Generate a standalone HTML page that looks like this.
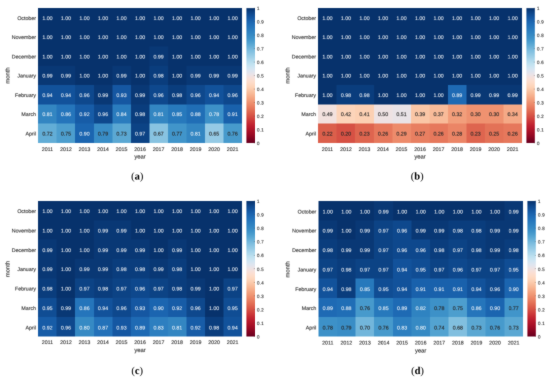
<!DOCTYPE html>
<html><head><meta charset="utf-8"><title>Heatmaps</title>
<style>
html,body{margin:0;padding:0;background:#fff;}
body{width:550px;height:379px;overflow:hidden;position:relative;}
.wrap{position:absolute;left:0;top:0;width:1100px;height:758px;transform:scale(0.5);transform-origin:0 0;will-change:transform;background:#fff;}
svg{display:block;font-family:"Liberation Sans",sans-serif;text-rendering:geometricPrecision;}
.ann text{font-size:5.25px;text-anchor:middle;}
.ann .wh{fill:#fff;stroke:#fff;stroke-width:0.04px;}
.ann .dk{fill:#262626;stroke:#262626;stroke-width:0.13px;}
.ml text{font-size:5.25px;text-anchor:end;fill:#262626;stroke:#262626;stroke-width:0.1px;}
.yl text{font-size:5.25px;text-anchor:middle;fill:#262626;stroke:#262626;stroke-width:0.1px;}
.axl{font-size:5.85px;text-anchor:middle;fill:#262626;stroke:#262626;stroke-width:0.1px;}
.cb text{font-size:4.7px;letter-spacing:0.15px;fill:#262626;stroke:#262626;stroke-width:0.1px;}
.cb line{stroke:#444;stroke-width:0.35px;}
.cap{font-family:"Liberation Serif",serif;font-size:10.5px;text-anchor:middle;fill:#000;}
.cap .b{font-weight:bold;}
</style></head><body>
<div class="wrap">
<svg width="1100" height="758" viewBox="0 0 550 379">
<defs><linearGradient id="rdbu" x1="0" y1="1" x2="0" y2="0">
<stop offset="0.0000" stop-color="#67001f"/>
<stop offset="0.0185" stop-color="#770120"/>
<stop offset="0.0370" stop-color="#860421"/>
<stop offset="0.0556" stop-color="#950823"/>
<stop offset="0.0741" stop-color="#a10c25"/>
<stop offset="0.0926" stop-color="#ad1228"/>
<stop offset="0.1111" stop-color="#b6182b"/>
<stop offset="0.1296" stop-color="#be202f"/>
<stop offset="0.1481" stop-color="#c52b33"/>
<stop offset="0.1667" stop-color="#cc3839"/>
<stop offset="0.1852" stop-color="#d2463f"/>
<stop offset="0.2037" stop-color="#d75345"/>
<stop offset="0.2222" stop-color="#dc604c"/>
<stop offset="0.2407" stop-color="#e16c53"/>
<stop offset="0.2593" stop-color="#e6785c"/>
<stop offset="0.2778" stop-color="#ea8465"/>
<stop offset="0.2963" stop-color="#ee8f6e"/>
<stop offset="0.3148" stop-color="#f19b78"/>
<stop offset="0.3333" stop-color="#f4a582"/>
<stop offset="0.3519" stop-color="#f6b08d"/>
<stop offset="0.3704" stop-color="#f8bb99"/>
<stop offset="0.3889" stop-color="#fac5a5"/>
<stop offset="0.4074" stop-color="#fccfb2"/>
<stop offset="0.4259" stop-color="#fdd6bd"/>
<stop offset="0.4444" stop-color="#fddbc7"/>
<stop offset="0.4630" stop-color="#fbded0"/>
<stop offset="0.4815" stop-color="#f6e0da"/>
<stop offset="0.5000" stop-color="#eee2e3"/>
<stop offset="0.5185" stop-color="#e4e4eb"/>
<stop offset="0.5370" stop-color="#dbe5f0"/>
<stop offset="0.5556" stop-color="#d1e5f2"/>
<stop offset="0.5741" stop-color="#c7e3f1"/>
<stop offset="0.5926" stop-color="#bcdfef"/>
<stop offset="0.6111" stop-color="#b0d9ec"/>
<stop offset="0.6296" stop-color="#a3d2e9"/>
<stop offset="0.6481" stop-color="#96cbe5"/>
<stop offset="0.6667" stop-color="#8ac4e2"/>
<stop offset="0.6852" stop-color="#7dbdde"/>
<stop offset="0.7037" stop-color="#6fb4da"/>
<stop offset="0.7222" stop-color="#60acd5"/>
<stop offset="0.7407" stop-color="#53a3d1"/>
<stop offset="0.7593" stop-color="#479acc"/>
<stop offset="0.7778" stop-color="#3e92c8"/>
<stop offset="0.7963" stop-color="#378bc5"/>
<stop offset="0.8148" stop-color="#3185c2"/>
<stop offset="0.8333" stop-color="#2c7ebf"/>
<stop offset="0.8519" stop-color="#2778bc"/>
<stop offset="0.8704" stop-color="#2271b9"/>
<stop offset="0.8889" stop-color="#1e6ab4"/>
<stop offset="0.9074" stop-color="#1a62ad"/>
<stop offset="0.9259" stop-color="#1559a4"/>
<stop offset="0.9444" stop-color="#115098"/>
<stop offset="0.9630" stop-color="#0e478b"/>
<stop offset="0.9815" stop-color="#0a3c7c"/>
<stop offset="1.0000" stop-color="#07326c"/>
</linearGradient>
<filter id="soft" color-interpolation-filters="sRGB" x="0" y="0" width="550" height="379" filterUnits="userSpaceOnUse"><feGaussianBlur stdDeviation="0.42" result="b"/><feComposite in="b" in2="SourceGraphic" operator="arithmetic" k1="0" k2="0.6" k3="0.4" k4="0"/></filter>
</defs>
<g filter="url(#soft)">
<rect x="-5" y="-5" width="560" height="389" fill="#ffffff"/>
<g class="panel">
<g class="cells" shape-rendering="crispEdges">
<rect x="38.00" y="8.00" width="18.50" height="19.50" fill="#07326c"/>
<rect x="56.50" y="8.00" width="18.50" height="19.50" fill="#07326c"/>
<rect x="75.00" y="8.00" width="19.00" height="19.50" fill="#07326c"/>
<rect x="94.00" y="8.00" width="18.50" height="19.50" fill="#07326c"/>
<rect x="112.50" y="8.00" width="18.50" height="19.50" fill="#07326c"/>
<rect x="131.00" y="8.00" width="18.50" height="19.50" fill="#07326c"/>
<rect x="149.50" y="8.00" width="18.50" height="19.50" fill="#07326c"/>
<rect x="168.00" y="8.00" width="18.50" height="19.50" fill="#07326c"/>
<rect x="186.50" y="8.00" width="18.50" height="19.50" fill="#07326c"/>
<rect x="205.00" y="8.00" width="18.50" height="19.50" fill="#07326c"/>
<rect x="223.50" y="8.00" width="18.50" height="19.50" fill="#07326c"/>
<rect x="38.00" y="27.50" width="18.50" height="19.00" fill="#07326c"/>
<rect x="56.50" y="27.50" width="18.50" height="19.00" fill="#07326c"/>
<rect x="75.00" y="27.50" width="19.00" height="19.00" fill="#07326c"/>
<rect x="94.00" y="27.50" width="18.50" height="19.00" fill="#07326c"/>
<rect x="112.50" y="27.50" width="18.50" height="19.00" fill="#07326c"/>
<rect x="131.00" y="27.50" width="18.50" height="19.00" fill="#07326c"/>
<rect x="149.50" y="27.50" width="18.50" height="19.00" fill="#07326c"/>
<rect x="168.00" y="27.50" width="18.50" height="19.00" fill="#07326c"/>
<rect x="186.50" y="27.50" width="18.50" height="19.00" fill="#07326c"/>
<rect x="205.00" y="27.50" width="18.50" height="19.00" fill="#07326c"/>
<rect x="223.50" y="27.50" width="18.50" height="19.00" fill="#07326c"/>
<rect x="38.00" y="46.50" width="18.50" height="19.50" fill="#07326c"/>
<rect x="56.50" y="46.50" width="18.50" height="19.50" fill="#07326c"/>
<rect x="75.00" y="46.50" width="19.00" height="19.50" fill="#07326c"/>
<rect x="94.00" y="46.50" width="18.50" height="19.50" fill="#07326c"/>
<rect x="112.50" y="46.50" width="18.50" height="19.50" fill="#07326c"/>
<rect x="131.00" y="46.50" width="18.50" height="19.50" fill="#07326c"/>
<rect x="149.50" y="46.50" width="18.50" height="19.50" fill="#093875"/>
<rect x="168.00" y="46.50" width="18.50" height="19.50" fill="#07326c"/>
<rect x="186.50" y="46.50" width="18.50" height="19.50" fill="#07326c"/>
<rect x="205.00" y="46.50" width="18.50" height="19.50" fill="#07326c"/>
<rect x="223.50" y="46.50" width="18.50" height="19.50" fill="#07326c"/>
<rect x="38.00" y="66.00" width="18.50" height="19.00" fill="#093875"/>
<rect x="56.50" y="66.00" width="18.50" height="19.00" fill="#093875"/>
<rect x="75.00" y="66.00" width="19.00" height="19.00" fill="#07326c"/>
<rect x="94.00" y="66.00" width="18.50" height="19.00" fill="#07326c"/>
<rect x="112.50" y="66.00" width="18.50" height="19.00" fill="#093875"/>
<rect x="131.00" y="66.00" width="18.50" height="19.00" fill="#07326c"/>
<rect x="149.50" y="66.00" width="18.50" height="19.00" fill="#0a3d7d"/>
<rect x="168.00" y="66.00" width="18.50" height="19.00" fill="#07326c"/>
<rect x="186.50" y="66.00" width="18.50" height="19.00" fill="#093875"/>
<rect x="205.00" y="66.00" width="18.50" height="19.00" fill="#093875"/>
<rect x="223.50" y="66.00" width="18.50" height="19.00" fill="#093875"/>
<rect x="38.00" y="85.00" width="18.50" height="19.50" fill="#12529b"/>
<rect x="56.50" y="85.00" width="18.50" height="19.50" fill="#12529b"/>
<rect x="75.00" y="85.00" width="19.00" height="19.50" fill="#0e488d"/>
<rect x="94.00" y="85.00" width="18.50" height="19.50" fill="#093875"/>
<rect x="112.50" y="85.00" width="18.50" height="19.50" fill="#1557a2"/>
<rect x="131.00" y="85.00" width="18.50" height="19.50" fill="#093875"/>
<rect x="149.50" y="85.00" width="18.50" height="19.50" fill="#0e488d"/>
<rect x="168.00" y="85.00" width="18.50" height="19.50" fill="#0a3d7d"/>
<rect x="186.50" y="85.00" width="18.50" height="19.50" fill="#0e488d"/>
<rect x="205.00" y="85.00" width="18.50" height="19.50" fill="#12529b"/>
<rect x="223.50" y="85.00" width="18.50" height="19.50" fill="#0e488d"/>
<rect x="38.00" y="104.50" width="18.50" height="19.00" fill="#3386c2"/>
<rect x="56.50" y="104.50" width="18.50" height="19.00" fill="#2575bb"/>
<rect x="75.00" y="104.50" width="19.00" height="19.00" fill="#175ca7"/>
<rect x="94.00" y="104.50" width="18.50" height="19.00" fill="#0e488d"/>
<rect x="112.50" y="104.50" width="18.50" height="19.00" fill="#2a7cbe"/>
<rect x="131.00" y="104.50" width="18.50" height="19.00" fill="#0a3d7d"/>
<rect x="149.50" y="104.50" width="18.50" height="19.00" fill="#3386c2"/>
<rect x="168.00" y="104.50" width="18.50" height="19.00" fill="#2779bc"/>
<rect x="186.50" y="104.50" width="18.50" height="19.00" fill="#206eb6"/>
<rect x="205.00" y="104.50" width="18.50" height="19.00" fill="#3d91c8"/>
<rect x="223.50" y="104.50" width="18.50" height="19.00" fill="#1961ac"/>
<rect x="38.00" y="123.50" width="18.50" height="19.50" fill="#62add6"/>
<rect x="56.50" y="123.50" width="18.50" height="19.50" fill="#4d9ece"/>
<rect x="75.00" y="123.50" width="19.00" height="19.50" fill="#1b65b0"/>
<rect x="94.00" y="123.50" width="18.50" height="19.50" fill="#398dc6"/>
<rect x="112.50" y="123.50" width="18.50" height="19.50" fill="#5ba8d3"/>
<rect x="131.00" y="123.50" width="18.50" height="19.50" fill="#0c4385"/>
<rect x="149.50" y="123.50" width="18.50" height="19.50" fill="#88c3e1"/>
<rect x="168.00" y="123.50" width="18.50" height="19.50" fill="#4195ca"/>
<rect x="186.50" y="123.50" width="18.50" height="19.50" fill="#3386c2"/>
<rect x="205.00" y="123.50" width="18.50" height="19.50" fill="#95cae5"/>
<rect x="223.50" y="123.50" width="18.50" height="19.50" fill="#479acc"/>
</g>
<g class="ann">
<text class="wh" x="47.46" y="19.89">1.00</text>
<text class="wh" x="65.98" y="19.89">1.00</text>
<text class="wh" x="84.50" y="19.89">1.00</text>
<text class="wh" x="103.01" y="19.89">1.00</text>
<text class="wh" x="121.53" y="19.89">1.00</text>
<text class="wh" x="140.05" y="19.89">1.00</text>
<text class="wh" x="158.57" y="19.89">1.00</text>
<text class="wh" x="177.09" y="19.89">1.00</text>
<text class="wh" x="195.60" y="19.89">1.00</text>
<text class="wh" x="214.12" y="19.89">1.00</text>
<text class="wh" x="232.64" y="19.89">1.00</text>
<text class="wh" x="47.46" y="39.16">1.00</text>
<text class="wh" x="65.98" y="39.16">1.00</text>
<text class="wh" x="84.50" y="39.16">1.00</text>
<text class="wh" x="103.01" y="39.16">1.00</text>
<text class="wh" x="121.53" y="39.16">1.00</text>
<text class="wh" x="140.05" y="39.16">1.00</text>
<text class="wh" x="158.57" y="39.16">1.00</text>
<text class="wh" x="177.09" y="39.16">1.00</text>
<text class="wh" x="195.60" y="39.16">1.00</text>
<text class="wh" x="214.12" y="39.16">1.00</text>
<text class="wh" x="232.64" y="39.16">1.00</text>
<text class="wh" x="47.46" y="58.43">1.00</text>
<text class="wh" x="65.98" y="58.43">1.00</text>
<text class="wh" x="84.50" y="58.43">1.00</text>
<text class="wh" x="103.01" y="58.43">1.00</text>
<text class="wh" x="121.53" y="58.43">1.00</text>
<text class="wh" x="140.05" y="58.43">1.00</text>
<text class="wh" x="158.57" y="58.43">0.99</text>
<text class="wh" x="177.09" y="58.43">1.00</text>
<text class="wh" x="195.60" y="58.43">1.00</text>
<text class="wh" x="214.12" y="58.43">1.00</text>
<text class="wh" x="232.64" y="58.43">1.00</text>
<text class="wh" x="47.46" y="77.70">0.99</text>
<text class="wh" x="65.98" y="77.70">0.99</text>
<text class="wh" x="84.50" y="77.70">1.00</text>
<text class="wh" x="103.01" y="77.70">1.00</text>
<text class="wh" x="121.53" y="77.70">0.99</text>
<text class="wh" x="140.05" y="77.70">1.00</text>
<text class="wh" x="158.57" y="77.70">0.98</text>
<text class="wh" x="177.09" y="77.70">1.00</text>
<text class="wh" x="195.60" y="77.70">0.99</text>
<text class="wh" x="214.12" y="77.70">0.99</text>
<text class="wh" x="232.64" y="77.70">0.99</text>
<text class="wh" x="47.46" y="96.97">0.94</text>
<text class="wh" x="65.98" y="96.97">0.94</text>
<text class="wh" x="84.50" y="96.97">0.96</text>
<text class="wh" x="103.01" y="96.97">0.99</text>
<text class="wh" x="121.53" y="96.97">0.93</text>
<text class="wh" x="140.05" y="96.97">0.99</text>
<text class="wh" x="158.57" y="96.97">0.96</text>
<text class="wh" x="177.09" y="96.97">0.98</text>
<text class="wh" x="195.60" y="96.97">0.96</text>
<text class="wh" x="214.12" y="96.97">0.94</text>
<text class="wh" x="232.64" y="96.97">0.96</text>
<text class="wh" x="47.46" y="116.24">0.81</text>
<text class="wh" x="65.98" y="116.24">0.86</text>
<text class="wh" x="84.50" y="116.24">0.92</text>
<text class="wh" x="103.01" y="116.24">0.96</text>
<text class="wh" x="121.53" y="116.24">0.84</text>
<text class="wh" x="140.05" y="116.24">0.98</text>
<text class="wh" x="158.57" y="116.24">0.81</text>
<text class="wh" x="177.09" y="116.24">0.85</text>
<text class="wh" x="195.60" y="116.24">0.88</text>
<text class="wh" x="214.12" y="116.24">0.78</text>
<text class="wh" x="232.64" y="116.24">0.91</text>
<text class="dk" x="47.46" y="135.51">0.72</text>
<text class="dk" x="65.98" y="135.51">0.75</text>
<text class="wh" x="84.50" y="135.51">0.90</text>
<text class="dk" x="103.01" y="135.51">0.79</text>
<text class="dk" x="121.53" y="135.51">0.73</text>
<text class="wh" x="140.05" y="135.51">0.97</text>
<text class="dk" x="158.57" y="135.51">0.67</text>
<text class="dk" x="177.09" y="135.51">0.77</text>
<text class="wh" x="195.60" y="135.51">0.81</text>
<text class="dk" x="214.12" y="135.51">0.65</text>
<text class="dk" x="232.64" y="135.51">0.76</text>
</g>
<g class="ml">
<text x="36.00" y="19.89">October</text>
<text x="36.00" y="39.16">November</text>
<text x="36.00" y="58.43">December</text>
<text x="36.00" y="77.70">January</text>
<text x="36.00" y="96.97">February</text>
<text x="36.00" y="116.24">March</text>
<text x="36.00" y="135.51">April</text>
</g>
<g class="yl">
<text x="47.46" y="150.90">2011</text>
<text x="65.98" y="150.90">2012</text>
<text x="84.50" y="150.90">2013</text>
<text x="103.01" y="150.90">2014</text>
<text x="121.53" y="150.90">2015</text>
<text x="140.05" y="150.90">2016</text>
<text x="158.57" y="150.90">2017</text>
<text x="177.09" y="150.90">2018</text>
<text x="195.60" y="150.90">2019</text>
<text x="214.12" y="150.90">2020</text>
<text x="232.64" y="150.90">2021</text>
</g>
<text class="axl" x="140.05" y="158.50">year</text>
<text class="axl" transform="translate(9.30 75.55) rotate(-90)">month</text>
<rect x="246.40" y="8.10" width="8.45" height="134.90" fill="url(#rdbu)"/>
<g class="cb">
<line x1="253.85" x2="254.85" y1="143.00" y2="143.00"/>
<text x="256.90" y="145.00">0</text>
<line x1="253.85" x2="254.85" y1="129.51" y2="129.51"/>
<text x="256.90" y="131.51">0.1</text>
<line x1="253.85" x2="254.85" y1="116.02" y2="116.02"/>
<text x="256.90" y="118.02">0.2</text>
<line x1="253.85" x2="254.85" y1="102.53" y2="102.53"/>
<text x="256.90" y="104.53">0.3</text>
<line x1="253.85" x2="254.85" y1="89.04" y2="89.04"/>
<text x="256.90" y="91.04">0.4</text>
<line x1="253.85" x2="254.85" y1="75.55" y2="75.55"/>
<text x="256.90" y="77.55">0.5</text>
<line x1="253.85" x2="254.85" y1="62.06" y2="62.06"/>
<text x="256.90" y="64.06">0.6</text>
<line x1="253.85" x2="254.85" y1="48.57" y2="48.57"/>
<text x="256.90" y="50.57">0.7</text>
<line x1="253.85" x2="254.85" y1="35.08" y2="35.08"/>
<text x="256.90" y="37.08">0.8</text>
<line x1="253.85" x2="254.85" y1="21.59" y2="21.59"/>
<text x="256.90" y="23.59">0.9</text>
<line x1="253.85" x2="254.85" y1="8.10" y2="8.10"/>
<text x="256.90" y="10.10">1</text>
</g>
<text class="cap" x="137.20" y="179.70">(<tspan class="b">a</tspan>)</text>
</g>
<g class="panel">
<g class="cells" shape-rendering="crispEdges">
<rect x="318.00" y="8.00" width="18.50" height="19.50" fill="#07326c"/>
<rect x="336.50" y="8.00" width="18.50" height="19.50" fill="#07326c"/>
<rect x="355.00" y="8.00" width="19.00" height="19.50" fill="#07326c"/>
<rect x="374.00" y="8.00" width="18.50" height="19.50" fill="#07326c"/>
<rect x="392.50" y="8.00" width="18.50" height="19.50" fill="#07326c"/>
<rect x="411.00" y="8.00" width="18.50" height="19.50" fill="#07326c"/>
<rect x="429.50" y="8.00" width="18.50" height="19.50" fill="#07326c"/>
<rect x="448.00" y="8.00" width="18.50" height="19.50" fill="#07326c"/>
<rect x="466.50" y="8.00" width="18.50" height="19.50" fill="#07326c"/>
<rect x="485.00" y="8.00" width="18.50" height="19.50" fill="#07326c"/>
<rect x="503.50" y="8.00" width="18.50" height="19.50" fill="#07326c"/>
<rect x="318.00" y="27.50" width="18.50" height="19.00" fill="#07326c"/>
<rect x="336.50" y="27.50" width="18.50" height="19.00" fill="#07326c"/>
<rect x="355.00" y="27.50" width="19.00" height="19.00" fill="#07326c"/>
<rect x="374.00" y="27.50" width="18.50" height="19.00" fill="#07326c"/>
<rect x="392.50" y="27.50" width="18.50" height="19.00" fill="#07326c"/>
<rect x="411.00" y="27.50" width="18.50" height="19.00" fill="#07326c"/>
<rect x="429.50" y="27.50" width="18.50" height="19.00" fill="#07326c"/>
<rect x="448.00" y="27.50" width="18.50" height="19.00" fill="#07326c"/>
<rect x="466.50" y="27.50" width="18.50" height="19.00" fill="#07326c"/>
<rect x="485.00" y="27.50" width="18.50" height="19.00" fill="#07326c"/>
<rect x="503.50" y="27.50" width="18.50" height="19.00" fill="#07326c"/>
<rect x="318.00" y="46.50" width="18.50" height="19.50" fill="#07326c"/>
<rect x="336.50" y="46.50" width="18.50" height="19.50" fill="#07326c"/>
<rect x="355.00" y="46.50" width="19.00" height="19.50" fill="#07326c"/>
<rect x="374.00" y="46.50" width="18.50" height="19.50" fill="#07326c"/>
<rect x="392.50" y="46.50" width="18.50" height="19.50" fill="#07326c"/>
<rect x="411.00" y="46.50" width="18.50" height="19.50" fill="#07326c"/>
<rect x="429.50" y="46.50" width="18.50" height="19.50" fill="#07326c"/>
<rect x="448.00" y="46.50" width="18.50" height="19.50" fill="#07326c"/>
<rect x="466.50" y="46.50" width="18.50" height="19.50" fill="#07326c"/>
<rect x="485.00" y="46.50" width="18.50" height="19.50" fill="#07326c"/>
<rect x="503.50" y="46.50" width="18.50" height="19.50" fill="#07326c"/>
<rect x="318.00" y="66.00" width="18.50" height="19.00" fill="#07326c"/>
<rect x="336.50" y="66.00" width="18.50" height="19.00" fill="#07326c"/>
<rect x="355.00" y="66.00" width="19.00" height="19.00" fill="#07326c"/>
<rect x="374.00" y="66.00" width="18.50" height="19.00" fill="#07326c"/>
<rect x="392.50" y="66.00" width="18.50" height="19.00" fill="#07326c"/>
<rect x="411.00" y="66.00" width="18.50" height="19.00" fill="#07326c"/>
<rect x="429.50" y="66.00" width="18.50" height="19.00" fill="#07326c"/>
<rect x="448.00" y="66.00" width="18.50" height="19.00" fill="#07326c"/>
<rect x="466.50" y="66.00" width="18.50" height="19.00" fill="#07326c"/>
<rect x="485.00" y="66.00" width="18.50" height="19.00" fill="#07326c"/>
<rect x="503.50" y="66.00" width="18.50" height="19.00" fill="#07326c"/>
<rect x="318.00" y="85.00" width="18.50" height="19.50" fill="#07326c"/>
<rect x="336.50" y="85.00" width="18.50" height="19.50" fill="#0a3d7d"/>
<rect x="355.00" y="85.00" width="19.00" height="19.50" fill="#0a3d7d"/>
<rect x="374.00" y="85.00" width="18.50" height="19.50" fill="#07326c"/>
<rect x="392.50" y="85.00" width="18.50" height="19.50" fill="#07326c"/>
<rect x="411.00" y="85.00" width="18.50" height="19.50" fill="#07326c"/>
<rect x="429.50" y="85.00" width="18.50" height="19.50" fill="#07326c"/>
<rect x="448.00" y="85.00" width="18.50" height="19.50" fill="#1e6ab4"/>
<rect x="466.50" y="85.00" width="18.50" height="19.50" fill="#093875"/>
<rect x="485.00" y="85.00" width="18.50" height="19.50" fill="#093875"/>
<rect x="503.50" y="85.00" width="18.50" height="19.50" fill="#093875"/>
<rect x="318.00" y="104.50" width="18.50" height="19.00" fill="#f2e1de"/>
<rect x="336.50" y="104.50" width="18.50" height="19.00" fill="#fcd4ba"/>
<rect x="355.00" y="104.50" width="19.00" height="19.00" fill="#fcd0b3"/>
<rect x="374.00" y="104.50" width="18.50" height="19.00" fill="#eee2e3"/>
<rect x="392.50" y="104.50" width="18.50" height="19.00" fill="#e9e3e7"/>
<rect x="411.00" y="104.50" width="18.50" height="19.00" fill="#fac6a6"/>
<rect x="429.50" y="104.50" width="18.50" height="19.00" fill="#f8bb99"/>
<rect x="448.00" y="104.50" width="18.50" height="19.00" fill="#f29e7b"/>
<rect x="466.50" y="104.50" width="18.50" height="19.00" fill="#ef9270"/>
<rect x="485.00" y="104.50" width="18.50" height="19.00" fill="#ef9270"/>
<rect x="503.50" y="104.50" width="18.50" height="19.00" fill="#f5a986"/>
<rect x="318.00" y="123.50" width="18.50" height="19.50" fill="#db5f4b"/>
<rect x="336.50" y="123.50" width="18.50" height="19.50" fill="#d65144"/>
<rect x="355.00" y="123.50" width="19.00" height="19.50" fill="#de654f"/>
<rect x="374.00" y="123.50" width="18.50" height="19.50" fill="#e6785c"/>
<rect x="392.50" y="123.50" width="18.50" height="19.50" fill="#ed8b6b"/>
<rect x="411.00" y="123.50" width="18.50" height="19.50" fill="#e87f61"/>
<rect x="429.50" y="123.50" width="18.50" height="19.50" fill="#e6785c"/>
<rect x="448.00" y="123.50" width="18.50" height="19.50" fill="#eb8566"/>
<rect x="466.50" y="123.50" width="18.50" height="19.50" fill="#de654f"/>
<rect x="485.00" y="123.50" width="18.50" height="19.50" fill="#e37257"/>
<rect x="503.50" y="123.50" width="18.50" height="19.50" fill="#e6785c"/>
</g>
<g class="ann">
<text class="wh" x="327.46" y="19.89">1.00</text>
<text class="wh" x="345.98" y="19.89">1.00</text>
<text class="wh" x="364.50" y="19.89">1.00</text>
<text class="wh" x="383.01" y="19.89">1.00</text>
<text class="wh" x="401.53" y="19.89">1.00</text>
<text class="wh" x="420.05" y="19.89">1.00</text>
<text class="wh" x="438.57" y="19.89">1.00</text>
<text class="wh" x="457.09" y="19.89">1.00</text>
<text class="wh" x="475.60" y="19.89">1.00</text>
<text class="wh" x="494.12" y="19.89">1.00</text>
<text class="wh" x="512.64" y="19.89">1.00</text>
<text class="wh" x="327.46" y="39.16">1.00</text>
<text class="wh" x="345.98" y="39.16">1.00</text>
<text class="wh" x="364.50" y="39.16">1.00</text>
<text class="wh" x="383.01" y="39.16">1.00</text>
<text class="wh" x="401.53" y="39.16">1.00</text>
<text class="wh" x="420.05" y="39.16">1.00</text>
<text class="wh" x="438.57" y="39.16">1.00</text>
<text class="wh" x="457.09" y="39.16">1.00</text>
<text class="wh" x="475.60" y="39.16">1.00</text>
<text class="wh" x="494.12" y="39.16">1.00</text>
<text class="wh" x="512.64" y="39.16">1.00</text>
<text class="wh" x="327.46" y="58.43">1.00</text>
<text class="wh" x="345.98" y="58.43">1.00</text>
<text class="wh" x="364.50" y="58.43">1.00</text>
<text class="wh" x="383.01" y="58.43">1.00</text>
<text class="wh" x="401.53" y="58.43">1.00</text>
<text class="wh" x="420.05" y="58.43">1.00</text>
<text class="wh" x="438.57" y="58.43">1.00</text>
<text class="wh" x="457.09" y="58.43">1.00</text>
<text class="wh" x="475.60" y="58.43">1.00</text>
<text class="wh" x="494.12" y="58.43">1.00</text>
<text class="wh" x="512.64" y="58.43">1.00</text>
<text class="wh" x="327.46" y="77.70">1.00</text>
<text class="wh" x="345.98" y="77.70">1.00</text>
<text class="wh" x="364.50" y="77.70">1.00</text>
<text class="wh" x="383.01" y="77.70">1.00</text>
<text class="wh" x="401.53" y="77.70">1.00</text>
<text class="wh" x="420.05" y="77.70">1.00</text>
<text class="wh" x="438.57" y="77.70">1.00</text>
<text class="wh" x="457.09" y="77.70">1.00</text>
<text class="wh" x="475.60" y="77.70">1.00</text>
<text class="wh" x="494.12" y="77.70">1.00</text>
<text class="wh" x="512.64" y="77.70">1.00</text>
<text class="wh" x="327.46" y="96.97">1.00</text>
<text class="wh" x="345.98" y="96.97">0.98</text>
<text class="wh" x="364.50" y="96.97">0.98</text>
<text class="wh" x="383.01" y="96.97">1.00</text>
<text class="wh" x="401.53" y="96.97">1.00</text>
<text class="wh" x="420.05" y="96.97">1.00</text>
<text class="wh" x="438.57" y="96.97">1.00</text>
<text class="wh" x="457.09" y="96.97">0.89</text>
<text class="wh" x="475.60" y="96.97">0.99</text>
<text class="wh" x="494.12" y="96.97">0.99</text>
<text class="wh" x="512.64" y="96.97">0.99</text>
<text class="dk" x="327.46" y="116.24">0.49</text>
<text class="dk" x="345.98" y="116.24">0.42</text>
<text class="dk" x="364.50" y="116.24">0.41</text>
<text class="dk" x="383.01" y="116.24">0.50</text>
<text class="dk" x="401.53" y="116.24">0.51</text>
<text class="dk" x="420.05" y="116.24">0.39</text>
<text class="dk" x="438.57" y="116.24">0.37</text>
<text class="dk" x="457.09" y="116.24">0.32</text>
<text class="dk" x="475.60" y="116.24">0.30</text>
<text class="dk" x="494.12" y="116.24">0.30</text>
<text class="dk" x="512.64" y="116.24">0.34</text>
<text class="dk" x="327.46" y="135.51">0.22</text>
<text class="dk" x="345.98" y="135.51">0.20</text>
<text class="dk" x="364.50" y="135.51">0.23</text>
<text class="dk" x="383.01" y="135.51">0.26</text>
<text class="dk" x="401.53" y="135.51">0.29</text>
<text class="dk" x="420.05" y="135.51">0.27</text>
<text class="dk" x="438.57" y="135.51">0.26</text>
<text class="dk" x="457.09" y="135.51">0.28</text>
<text class="dk" x="475.60" y="135.51">0.23</text>
<text class="dk" x="494.12" y="135.51">0.25</text>
<text class="dk" x="512.64" y="135.51">0.26</text>
</g>
<g class="ml">
<text x="316.00" y="19.89">October</text>
<text x="316.00" y="39.16">November</text>
<text x="316.00" y="58.43">December</text>
<text x="316.00" y="77.70">January</text>
<text x="316.00" y="96.97">February</text>
<text x="316.00" y="116.24">March</text>
<text x="316.00" y="135.51">April</text>
</g>
<g class="yl">
<text x="327.46" y="150.90">2011</text>
<text x="345.98" y="150.90">2012</text>
<text x="364.50" y="150.90">2013</text>
<text x="383.01" y="150.90">2014</text>
<text x="401.53" y="150.90">2015</text>
<text x="420.05" y="150.90">2016</text>
<text x="438.57" y="150.90">2017</text>
<text x="457.09" y="150.90">2018</text>
<text x="475.60" y="150.90">2019</text>
<text x="494.12" y="150.90">2020</text>
<text x="512.64" y="150.90">2021</text>
</g>
<text class="axl" x="420.05" y="158.50">year</text>
<text class="axl" transform="translate(289.30 75.55) rotate(-90)">month</text>
<rect x="526.40" y="8.10" width="8.45" height="134.90" fill="url(#rdbu)"/>
<g class="cb">
<line x1="533.85" x2="534.85" y1="143.00" y2="143.00"/>
<text x="536.90" y="145.00">0</text>
<line x1="533.85" x2="534.85" y1="129.51" y2="129.51"/>
<text x="536.90" y="131.51">0.1</text>
<line x1="533.85" x2="534.85" y1="116.02" y2="116.02"/>
<text x="536.90" y="118.02">0.2</text>
<line x1="533.85" x2="534.85" y1="102.53" y2="102.53"/>
<text x="536.90" y="104.53">0.3</text>
<line x1="533.85" x2="534.85" y1="89.04" y2="89.04"/>
<text x="536.90" y="91.04">0.4</text>
<line x1="533.85" x2="534.85" y1="75.55" y2="75.55"/>
<text x="536.90" y="77.55">0.5</text>
<line x1="533.85" x2="534.85" y1="62.06" y2="62.06"/>
<text x="536.90" y="64.06">0.6</text>
<line x1="533.85" x2="534.85" y1="48.57" y2="48.57"/>
<text x="536.90" y="50.57">0.7</text>
<line x1="533.85" x2="534.85" y1="35.08" y2="35.08"/>
<text x="536.90" y="37.08">0.8</text>
<line x1="533.85" x2="534.85" y1="21.59" y2="21.59"/>
<text x="536.90" y="23.59">0.9</text>
<line x1="533.85" x2="534.85" y1="8.10" y2="8.10"/>
<text x="536.90" y="10.10">1</text>
</g>
<text class="cap" x="417.20" y="179.70">(<tspan class="b">b</tspan>)</text>
</g>
<g class="panel">
<g class="cells" shape-rendering="crispEdges">
<rect x="38.00" y="201.00" width="18.50" height="19.50" fill="#07326c"/>
<rect x="56.50" y="201.00" width="18.50" height="19.50" fill="#07326c"/>
<rect x="75.00" y="201.00" width="19.00" height="19.50" fill="#07326c"/>
<rect x="94.00" y="201.00" width="18.50" height="19.50" fill="#07326c"/>
<rect x="112.50" y="201.00" width="18.50" height="19.50" fill="#07326c"/>
<rect x="131.00" y="201.00" width="18.50" height="19.50" fill="#07326c"/>
<rect x="149.50" y="201.00" width="18.50" height="19.50" fill="#07326c"/>
<rect x="168.00" y="201.00" width="18.50" height="19.50" fill="#07326c"/>
<rect x="186.50" y="201.00" width="18.50" height="19.50" fill="#07326c"/>
<rect x="205.00" y="201.00" width="18.50" height="19.50" fill="#07326c"/>
<rect x="223.50" y="201.00" width="18.50" height="19.50" fill="#07326c"/>
<rect x="38.00" y="220.50" width="18.50" height="19.00" fill="#07326c"/>
<rect x="56.50" y="220.50" width="18.50" height="19.00" fill="#07326c"/>
<rect x="75.00" y="220.50" width="19.00" height="19.00" fill="#07326c"/>
<rect x="94.00" y="220.50" width="18.50" height="19.00" fill="#093875"/>
<rect x="112.50" y="220.50" width="18.50" height="19.00" fill="#093875"/>
<rect x="131.00" y="220.50" width="18.50" height="19.00" fill="#07326c"/>
<rect x="149.50" y="220.50" width="18.50" height="19.00" fill="#07326c"/>
<rect x="168.00" y="220.50" width="18.50" height="19.00" fill="#07326c"/>
<rect x="186.50" y="220.50" width="18.50" height="19.00" fill="#07326c"/>
<rect x="205.00" y="220.50" width="18.50" height="19.00" fill="#07326c"/>
<rect x="223.50" y="220.50" width="18.50" height="19.00" fill="#07326c"/>
<rect x="38.00" y="239.50" width="18.50" height="19.50" fill="#093875"/>
<rect x="56.50" y="239.50" width="18.50" height="19.50" fill="#07326c"/>
<rect x="75.00" y="239.50" width="19.00" height="19.50" fill="#07326c"/>
<rect x="94.00" y="239.50" width="18.50" height="19.50" fill="#093875"/>
<rect x="112.50" y="239.50" width="18.50" height="19.50" fill="#093875"/>
<rect x="131.00" y="239.50" width="18.50" height="19.50" fill="#093875"/>
<rect x="149.50" y="239.50" width="18.50" height="19.50" fill="#07326c"/>
<rect x="168.00" y="239.50" width="18.50" height="19.50" fill="#093875"/>
<rect x="186.50" y="239.50" width="18.50" height="19.50" fill="#07326c"/>
<rect x="205.00" y="239.50" width="18.50" height="19.50" fill="#07326c"/>
<rect x="223.50" y="239.50" width="18.50" height="19.50" fill="#07326c"/>
<rect x="38.00" y="259.00" width="18.50" height="19.50" fill="#093875"/>
<rect x="56.50" y="259.00" width="18.50" height="19.50" fill="#07326c"/>
<rect x="75.00" y="259.00" width="19.00" height="19.50" fill="#093875"/>
<rect x="94.00" y="259.00" width="18.50" height="19.50" fill="#093875"/>
<rect x="112.50" y="259.00" width="18.50" height="19.50" fill="#0a3d7d"/>
<rect x="131.00" y="259.00" width="18.50" height="19.50" fill="#0a3d7d"/>
<rect x="149.50" y="259.00" width="18.50" height="19.50" fill="#093875"/>
<rect x="168.00" y="259.00" width="18.50" height="19.50" fill="#0a3d7d"/>
<rect x="186.50" y="259.00" width="18.50" height="19.50" fill="#07326c"/>
<rect x="205.00" y="259.00" width="18.50" height="19.50" fill="#07326c"/>
<rect x="223.50" y="259.00" width="18.50" height="19.50" fill="#07326c"/>
<rect x="38.00" y="278.50" width="18.50" height="19.50" fill="#0a3d7d"/>
<rect x="56.50" y="278.50" width="18.50" height="19.50" fill="#07326c"/>
<rect x="75.00" y="278.50" width="19.00" height="19.50" fill="#0c4385"/>
<rect x="94.00" y="278.50" width="18.50" height="19.50" fill="#0a3d7d"/>
<rect x="112.50" y="278.50" width="18.50" height="19.50" fill="#0c4385"/>
<rect x="131.00" y="278.50" width="18.50" height="19.50" fill="#0e488d"/>
<rect x="149.50" y="278.50" width="18.50" height="19.50" fill="#0c4385"/>
<rect x="168.00" y="278.50" width="18.50" height="19.50" fill="#0a3d7d"/>
<rect x="186.50" y="278.50" width="18.50" height="19.50" fill="#093875"/>
<rect x="205.00" y="278.50" width="18.50" height="19.50" fill="#07326c"/>
<rect x="223.50" y="278.50" width="18.50" height="19.50" fill="#0c4385"/>
<rect x="38.00" y="298.00" width="18.50" height="19.00" fill="#104d94"/>
<rect x="56.50" y="298.00" width="18.50" height="19.00" fill="#093875"/>
<rect x="75.00" y="298.00" width="19.00" height="19.00" fill="#2575bb"/>
<rect x="94.00" y="298.00" width="18.50" height="19.00" fill="#12529b"/>
<rect x="112.50" y="298.00" width="18.50" height="19.00" fill="#0e488d"/>
<rect x="131.00" y="298.00" width="18.50" height="19.00" fill="#1557a2"/>
<rect x="149.50" y="298.00" width="18.50" height="19.00" fill="#1b65b0"/>
<rect x="168.00" y="298.00" width="18.50" height="19.00" fill="#175ca7"/>
<rect x="186.50" y="298.00" width="18.50" height="19.00" fill="#0e488d"/>
<rect x="205.00" y="298.00" width="18.50" height="19.00" fill="#07326c"/>
<rect x="223.50" y="298.00" width="18.50" height="19.00" fill="#104d94"/>
<rect x="38.00" y="317.00" width="18.50" height="19.50" fill="#175ca7"/>
<rect x="56.50" y="317.00" width="18.50" height="19.50" fill="#0e488d"/>
<rect x="75.00" y="317.00" width="19.00" height="19.50" fill="#368ac4"/>
<rect x="94.00" y="317.00" width="18.50" height="19.50" fill="#2371b9"/>
<rect x="112.50" y="317.00" width="18.50" height="19.50" fill="#1557a2"/>
<rect x="131.00" y="317.00" width="18.50" height="19.50" fill="#1e6ab4"/>
<rect x="149.50" y="317.00" width="18.50" height="19.50" fill="#2d7fc0"/>
<rect x="168.00" y="317.00" width="18.50" height="19.50" fill="#3386c2"/>
<rect x="186.50" y="317.00" width="18.50" height="19.50" fill="#175ca7"/>
<rect x="205.00" y="317.00" width="18.50" height="19.50" fill="#0a3d7d"/>
<rect x="223.50" y="317.00" width="18.50" height="19.50" fill="#12529b"/>
</g>
<g class="ann">
<text class="wh" x="47.46" y="213.13">1.00</text>
<text class="wh" x="65.98" y="213.13">1.00</text>
<text class="wh" x="84.50" y="213.13">1.00</text>
<text class="wh" x="103.01" y="213.13">1.00</text>
<text class="wh" x="121.53" y="213.13">1.00</text>
<text class="wh" x="140.05" y="213.13">1.00</text>
<text class="wh" x="158.57" y="213.13">1.00</text>
<text class="wh" x="177.09" y="213.13">1.00</text>
<text class="wh" x="195.60" y="213.13">1.00</text>
<text class="wh" x="214.12" y="213.13">1.00</text>
<text class="wh" x="232.64" y="213.13">1.00</text>
<text class="wh" x="47.46" y="232.49">1.00</text>
<text class="wh" x="65.98" y="232.49">1.00</text>
<text class="wh" x="84.50" y="232.49">1.00</text>
<text class="wh" x="103.01" y="232.49">0.99</text>
<text class="wh" x="121.53" y="232.49">0.99</text>
<text class="wh" x="140.05" y="232.49">1.00</text>
<text class="wh" x="158.57" y="232.49">1.00</text>
<text class="wh" x="177.09" y="232.49">1.00</text>
<text class="wh" x="195.60" y="232.49">1.00</text>
<text class="wh" x="214.12" y="232.49">1.00</text>
<text class="wh" x="232.64" y="232.49">1.00</text>
<text class="wh" x="47.46" y="251.84">0.99</text>
<text class="wh" x="65.98" y="251.84">1.00</text>
<text class="wh" x="84.50" y="251.84">1.00</text>
<text class="wh" x="103.01" y="251.84">0.99</text>
<text class="wh" x="121.53" y="251.84">0.99</text>
<text class="wh" x="140.05" y="251.84">0.99</text>
<text class="wh" x="158.57" y="251.84">1.00</text>
<text class="wh" x="177.09" y="251.84">0.99</text>
<text class="wh" x="195.60" y="251.84">1.00</text>
<text class="wh" x="214.12" y="251.84">1.00</text>
<text class="wh" x="232.64" y="251.84">1.00</text>
<text class="wh" x="47.46" y="271.20">0.99</text>
<text class="wh" x="65.98" y="271.20">1.00</text>
<text class="wh" x="84.50" y="271.20">0.99</text>
<text class="wh" x="103.01" y="271.20">0.99</text>
<text class="wh" x="121.53" y="271.20">0.98</text>
<text class="wh" x="140.05" y="271.20">0.98</text>
<text class="wh" x="158.57" y="271.20">0.99</text>
<text class="wh" x="177.09" y="271.20">0.98</text>
<text class="wh" x="195.60" y="271.20">1.00</text>
<text class="wh" x="214.12" y="271.20">1.00</text>
<text class="wh" x="232.64" y="271.20">1.00</text>
<text class="wh" x="47.46" y="290.56">0.98</text>
<text class="wh" x="65.98" y="290.56">1.00</text>
<text class="wh" x="84.50" y="290.56">0.97</text>
<text class="wh" x="103.01" y="290.56">0.98</text>
<text class="wh" x="121.53" y="290.56">0.97</text>
<text class="wh" x="140.05" y="290.56">0.96</text>
<text class="wh" x="158.57" y="290.56">0.97</text>
<text class="wh" x="177.09" y="290.56">0.98</text>
<text class="wh" x="195.60" y="290.56">0.99</text>
<text class="wh" x="214.12" y="290.56">1.00</text>
<text class="wh" x="232.64" y="290.56">0.97</text>
<text class="wh" x="47.46" y="309.91">0.95</text>
<text class="wh" x="65.98" y="309.91">0.99</text>
<text class="wh" x="84.50" y="309.91">0.86</text>
<text class="wh" x="103.01" y="309.91">0.94</text>
<text class="wh" x="121.53" y="309.91">0.96</text>
<text class="wh" x="140.05" y="309.91">0.93</text>
<text class="wh" x="158.57" y="309.91">0.90</text>
<text class="wh" x="177.09" y="309.91">0.92</text>
<text class="wh" x="195.60" y="309.91">0.96</text>
<text class="wh" x="214.12" y="309.91">1.00</text>
<text class="wh" x="232.64" y="309.91">0.95</text>
<text class="wh" x="47.46" y="329.27">0.92</text>
<text class="wh" x="65.98" y="329.27">0.96</text>
<text class="wh" x="84.50" y="329.27">0.80</text>
<text class="wh" x="103.01" y="329.27">0.87</text>
<text class="wh" x="121.53" y="329.27">0.93</text>
<text class="wh" x="140.05" y="329.27">0.89</text>
<text class="wh" x="158.57" y="329.27">0.83</text>
<text class="wh" x="177.09" y="329.27">0.81</text>
<text class="wh" x="195.60" y="329.27">0.92</text>
<text class="wh" x="214.12" y="329.27">0.98</text>
<text class="wh" x="232.64" y="329.27">0.94</text>
</g>
<g class="ml">
<text x="36.00" y="213.13">October</text>
<text x="36.00" y="232.49">November</text>
<text x="36.00" y="251.84">December</text>
<text x="36.00" y="271.20">January</text>
<text x="36.00" y="290.56">February</text>
<text x="36.00" y="309.91">March</text>
<text x="36.00" y="329.27">April</text>
</g>
<g class="yl">
<text x="47.46" y="343.85">2011</text>
<text x="65.98" y="343.85">2012</text>
<text x="84.50" y="343.85">2013</text>
<text x="103.01" y="343.85">2014</text>
<text x="121.53" y="343.85">2015</text>
<text x="140.05" y="343.85">2016</text>
<text x="158.57" y="343.85">2017</text>
<text x="177.09" y="343.85">2018</text>
<text x="195.60" y="343.85">2019</text>
<text x="214.12" y="343.85">2020</text>
<text x="232.64" y="343.85">2021</text>
</g>
<text class="axl" x="140.05" y="351.90">year</text>
<text class="axl" transform="translate(9.30 269.05) rotate(-90)">month</text>
<rect x="246.40" y="201.00" width="8.45" height="135.50" fill="url(#rdbu)"/>
<g class="cb">
<line x1="253.85" x2="254.85" y1="336.50" y2="336.50"/>
<text x="256.90" y="338.50">0</text>
<line x1="253.85" x2="254.85" y1="322.95" y2="322.95"/>
<text x="256.90" y="324.95">0.1</text>
<line x1="253.85" x2="254.85" y1="309.40" y2="309.40"/>
<text x="256.90" y="311.40">0.2</text>
<line x1="253.85" x2="254.85" y1="295.85" y2="295.85"/>
<text x="256.90" y="297.85">0.3</text>
<line x1="253.85" x2="254.85" y1="282.30" y2="282.30"/>
<text x="256.90" y="284.30">0.4</text>
<line x1="253.85" x2="254.85" y1="268.75" y2="268.75"/>
<text x="256.90" y="270.75">0.5</text>
<line x1="253.85" x2="254.85" y1="255.20" y2="255.20"/>
<text x="256.90" y="257.20">0.6</text>
<line x1="253.85" x2="254.85" y1="241.65" y2="241.65"/>
<text x="256.90" y="243.65">0.7</text>
<line x1="253.85" x2="254.85" y1="228.10" y2="228.10"/>
<text x="256.90" y="230.10">0.8</text>
<line x1="253.85" x2="254.85" y1="214.55" y2="214.55"/>
<text x="256.90" y="216.55">0.9</text>
<line x1="253.85" x2="254.85" y1="201.00" y2="201.00"/>
<text x="256.90" y="203.00">1</text>
</g>
<text class="cap" x="137.20" y="373.80">(<tspan class="b">c</tspan>)</text>
</g>
<g class="panel">
<g class="cells" shape-rendering="crispEdges">
<rect x="318.50" y="201.00" width="18.50" height="19.50" fill="#07326c"/>
<rect x="337.00" y="201.00" width="18.50" height="19.50" fill="#07326c"/>
<rect x="355.50" y="201.00" width="18.50" height="19.50" fill="#07326c"/>
<rect x="374.00" y="201.00" width="19.00" height="19.50" fill="#093875"/>
<rect x="393.00" y="201.00" width="18.50" height="19.50" fill="#07326c"/>
<rect x="411.50" y="201.00" width="18.50" height="19.50" fill="#07326c"/>
<rect x="430.00" y="201.00" width="18.50" height="19.50" fill="#07326c"/>
<rect x="448.50" y="201.00" width="18.50" height="19.50" fill="#07326c"/>
<rect x="467.00" y="201.00" width="18.50" height="19.50" fill="#07326c"/>
<rect x="485.50" y="201.00" width="19.00" height="19.50" fill="#07326c"/>
<rect x="504.50" y="201.00" width="18.50" height="19.50" fill="#093875"/>
<rect x="318.50" y="220.50" width="18.50" height="19.00" fill="#093875"/>
<rect x="337.00" y="220.50" width="18.50" height="19.00" fill="#07326c"/>
<rect x="355.50" y="220.50" width="18.50" height="19.00" fill="#093875"/>
<rect x="374.00" y="220.50" width="19.00" height="19.00" fill="#0c4385"/>
<rect x="393.00" y="220.50" width="18.50" height="19.00" fill="#0e488d"/>
<rect x="411.50" y="220.50" width="18.50" height="19.00" fill="#093875"/>
<rect x="430.00" y="220.50" width="18.50" height="19.00" fill="#093875"/>
<rect x="448.50" y="220.50" width="18.50" height="19.00" fill="#0a3d7d"/>
<rect x="467.00" y="220.50" width="18.50" height="19.00" fill="#0a3d7d"/>
<rect x="485.50" y="220.50" width="19.00" height="19.00" fill="#093875"/>
<rect x="504.50" y="220.50" width="18.50" height="19.00" fill="#093875"/>
<rect x="318.50" y="239.50" width="18.50" height="19.50" fill="#0a3d7d"/>
<rect x="337.00" y="239.50" width="18.50" height="19.50" fill="#093875"/>
<rect x="355.50" y="239.50" width="18.50" height="19.50" fill="#093875"/>
<rect x="374.00" y="239.50" width="19.00" height="19.50" fill="#0c4385"/>
<rect x="393.00" y="239.50" width="18.50" height="19.50" fill="#0e488d"/>
<rect x="411.50" y="239.50" width="18.50" height="19.50" fill="#0e488d"/>
<rect x="430.00" y="239.50" width="18.50" height="19.50" fill="#0a3d7d"/>
<rect x="448.50" y="239.50" width="18.50" height="19.50" fill="#0c4385"/>
<rect x="467.00" y="239.50" width="18.50" height="19.50" fill="#0a3d7d"/>
<rect x="485.50" y="239.50" width="19.00" height="19.50" fill="#093875"/>
<rect x="504.50" y="239.50" width="18.50" height="19.50" fill="#0a3d7d"/>
<rect x="318.50" y="259.00" width="18.50" height="19.50" fill="#0c4385"/>
<rect x="337.00" y="259.00" width="18.50" height="19.50" fill="#0a3d7d"/>
<rect x="355.50" y="259.00" width="18.50" height="19.50" fill="#0c4385"/>
<rect x="374.00" y="259.00" width="19.00" height="19.50" fill="#0c4385"/>
<rect x="393.00" y="259.00" width="18.50" height="19.50" fill="#12529b"/>
<rect x="411.50" y="259.00" width="18.50" height="19.50" fill="#104d94"/>
<rect x="430.00" y="259.00" width="18.50" height="19.50" fill="#0c4385"/>
<rect x="448.50" y="259.00" width="18.50" height="19.50" fill="#0e488d"/>
<rect x="467.00" y="259.00" width="18.50" height="19.50" fill="#0c4385"/>
<rect x="485.50" y="259.00" width="19.00" height="19.50" fill="#0c4385"/>
<rect x="504.50" y="259.00" width="18.50" height="19.50" fill="#104d94"/>
<rect x="318.50" y="278.50" width="18.50" height="19.50" fill="#12529b"/>
<rect x="337.00" y="278.50" width="18.50" height="19.50" fill="#0a3d7d"/>
<rect x="355.50" y="278.50" width="18.50" height="19.50" fill="#2779bc"/>
<rect x="374.00" y="278.50" width="19.00" height="19.50" fill="#104d94"/>
<rect x="393.00" y="278.50" width="18.50" height="19.50" fill="#12529b"/>
<rect x="411.50" y="278.50" width="18.50" height="19.50" fill="#1961ac"/>
<rect x="430.00" y="278.50" width="18.50" height="19.50" fill="#1961ac"/>
<rect x="448.50" y="278.50" width="18.50" height="19.50" fill="#1961ac"/>
<rect x="467.00" y="278.50" width="18.50" height="19.50" fill="#12529b"/>
<rect x="485.50" y="278.50" width="19.00" height="19.50" fill="#0e488d"/>
<rect x="504.50" y="278.50" width="18.50" height="19.50" fill="#1b65b0"/>
<rect x="318.50" y="298.00" width="18.50" height="19.00" fill="#1e6ab4"/>
<rect x="337.00" y="298.00" width="18.50" height="19.00" fill="#206eb6"/>
<rect x="355.50" y="298.00" width="18.50" height="19.00" fill="#479acc"/>
<rect x="374.00" y="298.00" width="19.00" height="19.00" fill="#2779bc"/>
<rect x="393.00" y="298.00" width="18.50" height="19.00" fill="#1e6ab4"/>
<rect x="411.50" y="298.00" width="18.50" height="19.00" fill="#2f83c1"/>
<rect x="430.00" y="298.00" width="18.50" height="19.00" fill="#3d91c8"/>
<rect x="448.50" y="298.00" width="18.50" height="19.00" fill="#4d9ece"/>
<rect x="467.00" y="298.00" width="18.50" height="19.00" fill="#2575bb"/>
<rect x="485.50" y="298.00" width="19.00" height="19.00" fill="#1b65b0"/>
<rect x="504.50" y="298.00" width="18.50" height="19.00" fill="#4195ca"/>
<rect x="318.50" y="317.00" width="18.50" height="19.50" fill="#3d91c8"/>
<rect x="337.00" y="317.00" width="18.50" height="19.50" fill="#398dc6"/>
<rect x="355.50" y="317.00" width="18.50" height="19.50" fill="#72b6db"/>
<rect x="374.00" y="317.00" width="19.00" height="19.50" fill="#479acc"/>
<rect x="393.00" y="317.00" width="18.50" height="19.50" fill="#2d7fc0"/>
<rect x="411.50" y="317.00" width="18.50" height="19.50" fill="#368ac4"/>
<rect x="430.00" y="317.00" width="18.50" height="19.50" fill="#53a3d1"/>
<rect x="448.50" y="317.00" width="18.50" height="19.50" fill="#81bfdf"/>
<rect x="467.00" y="317.00" width="18.50" height="19.50" fill="#5ba8d3"/>
<rect x="485.50" y="317.00" width="19.00" height="19.50" fill="#479acc"/>
<rect x="504.50" y="317.00" width="18.50" height="19.50" fill="#5ba8d3"/>
</g>
<g class="ann">
<text class="wh" x="327.79" y="213.33">1.00</text>
<text class="wh" x="346.37" y="213.33">1.00</text>
<text class="wh" x="364.95" y="213.33">1.00</text>
<text class="wh" x="383.54" y="213.33">0.99</text>
<text class="wh" x="402.12" y="213.33">1.00</text>
<text class="wh" x="420.70" y="213.33">1.00</text>
<text class="wh" x="439.28" y="213.33">1.00</text>
<text class="wh" x="457.86" y="213.33">1.00</text>
<text class="wh" x="476.45" y="213.33">1.00</text>
<text class="wh" x="495.03" y="213.33">1.00</text>
<text class="wh" x="513.61" y="213.33">0.99</text>
<text class="wh" x="327.79" y="232.69">0.99</text>
<text class="wh" x="346.37" y="232.69">1.00</text>
<text class="wh" x="364.95" y="232.69">0.99</text>
<text class="wh" x="383.54" y="232.69">0.97</text>
<text class="wh" x="402.12" y="232.69">0.96</text>
<text class="wh" x="420.70" y="232.69">0.99</text>
<text class="wh" x="439.28" y="232.69">0.99</text>
<text class="wh" x="457.86" y="232.69">0.98</text>
<text class="wh" x="476.45" y="232.69">0.98</text>
<text class="wh" x="495.03" y="232.69">0.99</text>
<text class="wh" x="513.61" y="232.69">0.99</text>
<text class="wh" x="327.79" y="252.04">0.98</text>
<text class="wh" x="346.37" y="252.04">0.99</text>
<text class="wh" x="364.95" y="252.04">0.99</text>
<text class="wh" x="383.54" y="252.04">0.97</text>
<text class="wh" x="402.12" y="252.04">0.96</text>
<text class="wh" x="420.70" y="252.04">0.96</text>
<text class="wh" x="439.28" y="252.04">0.98</text>
<text class="wh" x="457.86" y="252.04">0.97</text>
<text class="wh" x="476.45" y="252.04">0.98</text>
<text class="wh" x="495.03" y="252.04">0.99</text>
<text class="wh" x="513.61" y="252.04">0.98</text>
<text class="wh" x="327.79" y="271.40">0.97</text>
<text class="wh" x="346.37" y="271.40">0.98</text>
<text class="wh" x="364.95" y="271.40">0.97</text>
<text class="wh" x="383.54" y="271.40">0.97</text>
<text class="wh" x="402.12" y="271.40">0.94</text>
<text class="wh" x="420.70" y="271.40">0.95</text>
<text class="wh" x="439.28" y="271.40">0.97</text>
<text class="wh" x="457.86" y="271.40">0.96</text>
<text class="wh" x="476.45" y="271.40">0.97</text>
<text class="wh" x="495.03" y="271.40">0.97</text>
<text class="wh" x="513.61" y="271.40">0.95</text>
<text class="wh" x="327.79" y="290.76">0.94</text>
<text class="wh" x="346.37" y="290.76">0.98</text>
<text class="wh" x="364.95" y="290.76">0.85</text>
<text class="wh" x="383.54" y="290.76">0.95</text>
<text class="wh" x="402.12" y="290.76">0.94</text>
<text class="wh" x="420.70" y="290.76">0.91</text>
<text class="wh" x="439.28" y="290.76">0.91</text>
<text class="wh" x="457.86" y="290.76">0.91</text>
<text class="wh" x="476.45" y="290.76">0.94</text>
<text class="wh" x="495.03" y="290.76">0.96</text>
<text class="wh" x="513.61" y="290.76">0.90</text>
<text class="wh" x="327.79" y="310.11">0.89</text>
<text class="wh" x="346.37" y="310.11">0.88</text>
<text class="dk" x="364.95" y="310.11">0.76</text>
<text class="wh" x="383.54" y="310.11">0.85</text>
<text class="wh" x="402.12" y="310.11">0.89</text>
<text class="wh" x="420.70" y="310.11">0.82</text>
<text class="dk" x="439.28" y="310.11">0.78</text>
<text class="dk" x="457.86" y="310.11">0.75</text>
<text class="wh" x="476.45" y="310.11">0.86</text>
<text class="wh" x="495.03" y="310.11">0.90</text>
<text class="dk" x="513.61" y="310.11">0.77</text>
<text class="dk" x="327.79" y="329.47">0.78</text>
<text class="dk" x="346.37" y="329.47">0.79</text>
<text class="dk" x="364.95" y="329.47">0.70</text>
<text class="dk" x="383.54" y="329.47">0.76</text>
<text class="wh" x="402.12" y="329.47">0.83</text>
<text class="wh" x="420.70" y="329.47">0.80</text>
<text class="dk" x="439.28" y="329.47">0.74</text>
<text class="dk" x="457.86" y="329.47">0.68</text>
<text class="dk" x="476.45" y="329.47">0.73</text>
<text class="dk" x="495.03" y="329.47">0.76</text>
<text class="dk" x="513.61" y="329.47">0.73</text>
</g>
<g class="ml">
<text x="316.30" y="213.33">October</text>
<text x="316.30" y="232.69">November</text>
<text x="316.30" y="252.04">December</text>
<text x="316.30" y="271.40">January</text>
<text x="316.30" y="290.76">February</text>
<text x="316.30" y="310.11">March</text>
<text x="316.30" y="329.47">April</text>
</g>
<g class="yl">
<text x="327.79" y="344.30">2011</text>
<text x="346.37" y="344.30">2012</text>
<text x="364.95" y="344.30">2013</text>
<text x="383.54" y="344.30">2014</text>
<text x="402.12" y="344.30">2015</text>
<text x="420.70" y="344.30">2016</text>
<text x="439.28" y="344.30">2017</text>
<text x="457.86" y="344.30">2018</text>
<text x="476.45" y="344.30">2019</text>
<text x="495.03" y="344.30">2020</text>
<text x="513.61" y="344.30">2021</text>
</g>
<text class="axl" x="420.70" y="352.50">year</text>
<text class="axl" transform="translate(289.60 269.35) rotate(-90)">month</text>
<rect x="527.40" y="201.00" width="8.45" height="135.50" fill="url(#rdbu)"/>
<g class="cb">
<line x1="534.85" x2="535.85" y1="336.50" y2="336.50"/>
<text x="537.90" y="338.50">0</text>
<line x1="534.85" x2="535.85" y1="322.95" y2="322.95"/>
<text x="537.90" y="324.95">0.1</text>
<line x1="534.85" x2="535.85" y1="309.40" y2="309.40"/>
<text x="537.90" y="311.40">0.2</text>
<line x1="534.85" x2="535.85" y1="295.85" y2="295.85"/>
<text x="537.90" y="297.85">0.3</text>
<line x1="534.85" x2="535.85" y1="282.30" y2="282.30"/>
<text x="537.90" y="284.30">0.4</text>
<line x1="534.85" x2="535.85" y1="268.75" y2="268.75"/>
<text x="537.90" y="270.75">0.5</text>
<line x1="534.85" x2="535.85" y1="255.20" y2="255.20"/>
<text x="537.90" y="257.20">0.6</text>
<line x1="534.85" x2="535.85" y1="241.65" y2="241.65"/>
<text x="537.90" y="243.65">0.7</text>
<line x1="534.85" x2="535.85" y1="228.10" y2="228.10"/>
<text x="537.90" y="230.10">0.8</text>
<line x1="534.85" x2="535.85" y1="214.55" y2="214.55"/>
<text x="537.90" y="216.55">0.9</text>
<line x1="534.85" x2="535.85" y1="201.00" y2="201.00"/>
<text x="537.90" y="203.00">1</text>
</g>
<text class="cap" x="417.50" y="373.90">(<tspan class="b">d</tspan>)</text>
</g>
</g>
</svg>
</div>
</body></html>
